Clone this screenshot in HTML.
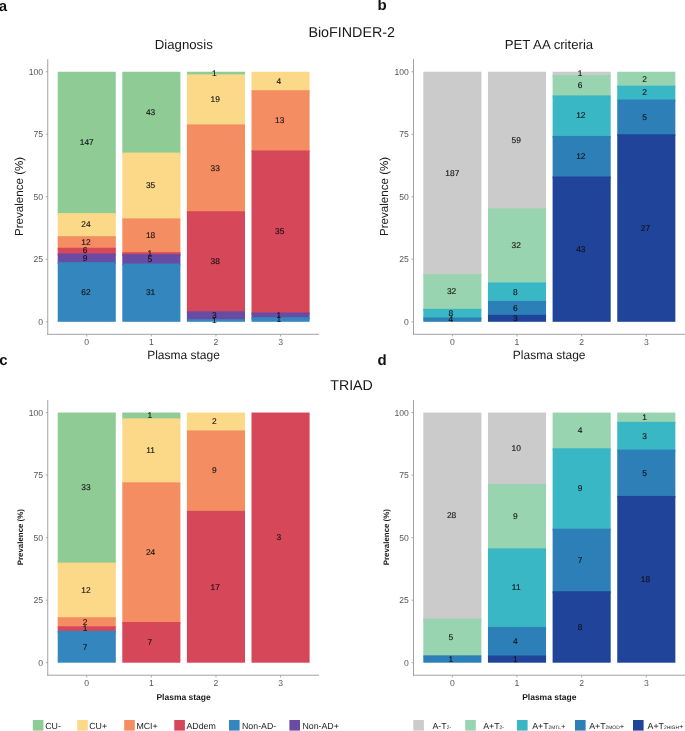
<!DOCTYPE html>
<html><head><meta charset="utf-8"><style>
html,body{margin:0;padding:0;background:#fff;}
body{width:685px;height:731px;overflow:hidden;}
svg{display:block;font-family:"Liberation Sans", sans-serif;will-change:transform;}
text{text-rendering:geometricPrecision;}
</style></head><body>
<svg width="685" height="731" viewBox="0 0 685 731">
<rect width="685" height="731" fill="#fff"/>
<line x1="47.75" y1="59.25" x2="47.75" y2="334.80" stroke="#a2a2a2" stroke-width="1.0"/>
<line x1="47.25" y1="334.30" x2="319.07" y2="334.30" stroke="#a2a2a2" stroke-width="1.0"/>
<line x1="45.75" y1="321.80" x2="47.75" y2="321.80" stroke="#a2a2a2" stroke-width="0.9"/>
<text x="43.15" y="324.80" font-size="8.6" fill="#555" text-anchor="end" font-weight="normal" >0</text>
<line x1="45.75" y1="259.29" x2="47.75" y2="259.29" stroke="#a2a2a2" stroke-width="0.9"/>
<text x="43.15" y="262.29" font-size="8.6" fill="#555" text-anchor="end" font-weight="normal" >25</text>
<line x1="45.75" y1="196.78" x2="47.75" y2="196.78" stroke="#a2a2a2" stroke-width="0.9"/>
<text x="43.15" y="199.78" font-size="8.6" fill="#555" text-anchor="end" font-weight="normal" >50</text>
<line x1="45.75" y1="134.26" x2="47.75" y2="134.26" stroke="#a2a2a2" stroke-width="0.9"/>
<text x="43.15" y="137.26" font-size="8.6" fill="#555" text-anchor="end" font-weight="normal" >75</text>
<line x1="45.75" y1="71.75" x2="47.75" y2="71.75" stroke="#a2a2a2" stroke-width="0.9"/>
<text x="43.15" y="74.75" font-size="8.6" fill="#555" text-anchor="end" font-weight="normal" >100</text>
<line x1="86.75" y1="334.30" x2="86.75" y2="336.50" stroke="#a2a2a2" stroke-width="0.9"/>
<text x="86.75" y="344.80" font-size="8.6" fill="#555" text-anchor="middle" font-weight="normal" >0</text>
<rect x="57.70" y="71.75" width="58.10" height="143.37" fill="#8fcb95"/>
<rect x="57.70" y="213.12" width="58.10" height="25.08" fill="#fcd988"/>
<rect x="57.70" y="236.21" width="58.10" height="13.54" fill="#f48d62"/>
<rect x="57.70" y="247.75" width="58.10" height="7.77" fill="#d54759"/>
<rect x="57.70" y="253.52" width="58.10" height="10.66" fill="#6a4ba3"/>
<rect x="57.70" y="262.17" width="58.10" height="59.63" fill="#3387be"/>
<text x="85.95" y="294.79" font-size="8.4" fill="#111" text-anchor="middle" font-weight="normal" stroke="#111" stroke-width="0.12" >62</text>
<text x="85.15" y="260.64" font-size="8.4" fill="#111" text-anchor="middle" font-weight="normal" stroke="#111" stroke-width="0.12" >9</text>
<text x="85.15" y="253.43" font-size="8.4" fill="#111" text-anchor="middle" font-weight="normal" stroke="#111" stroke-width="0.12" >6</text>
<text x="85.95" y="244.78" font-size="8.4" fill="#111" text-anchor="middle" font-weight="normal" stroke="#111" stroke-width="0.12" >12</text>
<text x="85.95" y="227.47" font-size="8.4" fill="#111" text-anchor="middle" font-weight="normal" stroke="#111" stroke-width="0.12" >24</text>
<text x="86.75" y="145.24" font-size="8.4" fill="#111" text-anchor="middle" font-weight="normal" stroke="#111" stroke-width="0.12" >147</text>
<line x1="151.35" y1="334.30" x2="151.35" y2="336.50" stroke="#a2a2a2" stroke-width="0.9"/>
<text x="151.35" y="344.80" font-size="8.6" fill="#555" text-anchor="middle" font-weight="normal" >1</text>
<rect x="122.30" y="71.75" width="58.10" height="82.84" fill="#8fcb95"/>
<rect x="122.30" y="152.59" width="58.10" height="67.80" fill="#fcd988"/>
<rect x="122.30" y="218.40" width="58.10" height="35.84" fill="#f48d62"/>
<rect x="122.30" y="252.24" width="58.10" height="3.88" fill="#d54759"/>
<rect x="122.30" y="254.12" width="58.10" height="11.40" fill="#6a4ba3"/>
<rect x="122.30" y="263.52" width="58.10" height="58.28" fill="#3387be"/>
<text x="150.55" y="295.46" font-size="8.4" fill="#111" text-anchor="middle" font-weight="normal" stroke="#111" stroke-width="0.12" >31</text>
<text x="149.75" y="261.62" font-size="8.4" fill="#111" text-anchor="middle" font-weight="normal" stroke="#111" stroke-width="0.12" >5</text>
<text x="149.75" y="255.98" font-size="8.4" fill="#111" text-anchor="middle" font-weight="normal" stroke="#111" stroke-width="0.12" >1</text>
<text x="150.55" y="238.12" font-size="8.4" fill="#111" text-anchor="middle" font-weight="normal" stroke="#111" stroke-width="0.12" >18</text>
<text x="150.55" y="188.29" font-size="8.4" fill="#111" text-anchor="middle" font-weight="normal" stroke="#111" stroke-width="0.12" >35</text>
<text x="150.55" y="114.97" font-size="8.4" fill="#111" text-anchor="middle" font-weight="normal" stroke="#111" stroke-width="0.12" >43</text>
<line x1="215.95" y1="334.30" x2="215.95" y2="336.50" stroke="#a2a2a2" stroke-width="0.9"/>
<text x="215.95" y="344.80" font-size="8.6" fill="#555" text-anchor="middle" font-weight="normal" >2</text>
<rect x="186.90" y="71.75" width="58.10" height="4.63" fill="#8fcb95"/>
<rect x="186.90" y="74.38" width="58.10" height="52.01" fill="#fcd988"/>
<rect x="186.90" y="124.39" width="58.10" height="88.86" fill="#f48d62"/>
<rect x="186.90" y="211.25" width="58.10" height="102.02" fill="#d54759"/>
<rect x="186.90" y="311.27" width="58.10" height="9.73" fill="#6a4ba3"/>
<rect x="186.90" y="319.17" width="58.10" height="2.63" fill="#3387be"/>
<text x="214.35" y="323.28" font-size="8.4" fill="#111" text-anchor="middle" font-weight="normal" stroke="#111" stroke-width="0.12" >1</text>
<text x="214.35" y="318.02" font-size="8.4" fill="#111" text-anchor="middle" font-weight="normal" stroke="#111" stroke-width="0.12" >3</text>
<text x="215.15" y="264.06" font-size="8.4" fill="#111" text-anchor="middle" font-weight="normal" stroke="#111" stroke-width="0.12" >38</text>
<text x="215.15" y="170.62" font-size="8.4" fill="#111" text-anchor="middle" font-weight="normal" stroke="#111" stroke-width="0.12" >33</text>
<text x="215.15" y="102.19" font-size="8.4" fill="#111" text-anchor="middle" font-weight="normal" stroke="#111" stroke-width="0.12" >19</text>
<text x="214.35" y="75.87" font-size="8.4" fill="#111" text-anchor="middle" font-weight="normal" stroke="#111" stroke-width="0.12" >1</text>
<line x1="280.55" y1="334.30" x2="280.55" y2="336.50" stroke="#a2a2a2" stroke-width="0.9"/>
<text x="280.55" y="344.80" font-size="8.6" fill="#555" text-anchor="middle" font-weight="normal" >3</text>
<rect x="251.50" y="71.75" width="58.10" height="20.52" fill="#fcd988"/>
<rect x="251.50" y="90.27" width="58.10" height="62.20" fill="#f48d62"/>
<rect x="251.50" y="150.47" width="58.10" height="164.07" fill="#d54759"/>
<rect x="251.50" y="312.54" width="58.10" height="6.63" fill="#6a4ba3"/>
<rect x="251.50" y="317.17" width="58.10" height="4.63" fill="#3387be"/>
<text x="278.95" y="322.28" font-size="8.4" fill="#111" text-anchor="middle" font-weight="normal" stroke="#111" stroke-width="0.12" >1</text>
<text x="278.95" y="317.65" font-size="8.4" fill="#111" text-anchor="middle" font-weight="normal" stroke="#111" stroke-width="0.12" >1</text>
<text x="279.75" y="234.30" font-size="8.4" fill="#111" text-anchor="middle" font-weight="normal" stroke="#111" stroke-width="0.12" >35</text>
<text x="279.75" y="123.17" font-size="8.4" fill="#111" text-anchor="middle" font-weight="normal" stroke="#111" stroke-width="0.12" >13</text>
<text x="278.95" y="83.81" font-size="8.4" fill="#111" text-anchor="middle" font-weight="normal" stroke="#111" stroke-width="0.12" >4</text>
<line x1="413.50" y1="59.25" x2="413.50" y2="334.80" stroke="#a2a2a2" stroke-width="1.0"/>
<line x1="413.00" y1="334.30" x2="685.03" y2="334.30" stroke="#a2a2a2" stroke-width="1.0"/>
<line x1="411.50" y1="321.80" x2="413.50" y2="321.80" stroke="#a2a2a2" stroke-width="0.9"/>
<text x="408.90" y="324.80" font-size="8.6" fill="#555" text-anchor="end" font-weight="normal" >0</text>
<line x1="411.50" y1="259.29" x2="413.50" y2="259.29" stroke="#a2a2a2" stroke-width="0.9"/>
<text x="408.90" y="262.29" font-size="8.6" fill="#555" text-anchor="end" font-weight="normal" >25</text>
<line x1="411.50" y1="196.78" x2="413.50" y2="196.78" stroke="#a2a2a2" stroke-width="0.9"/>
<text x="408.90" y="199.78" font-size="8.6" fill="#555" text-anchor="end" font-weight="normal" >50</text>
<line x1="411.50" y1="134.26" x2="413.50" y2="134.26" stroke="#a2a2a2" stroke-width="0.9"/>
<text x="408.90" y="137.26" font-size="8.6" fill="#555" text-anchor="end" font-weight="normal" >75</text>
<line x1="411.50" y1="71.75" x2="413.50" y2="71.75" stroke="#a2a2a2" stroke-width="0.9"/>
<text x="408.90" y="74.75" font-size="8.6" fill="#555" text-anchor="end" font-weight="normal" >100</text>
<line x1="452.35" y1="334.30" x2="452.35" y2="336.50" stroke="#a2a2a2" stroke-width="0.9"/>
<text x="452.35" y="344.80" font-size="8.6" fill="#555" text-anchor="middle" font-weight="normal" >0</text>
<rect x="423.30" y="71.75" width="58.10" height="204.42" fill="#cbcbcb"/>
<rect x="423.30" y="274.17" width="58.10" height="36.64" fill="#99d4b1"/>
<rect x="423.30" y="308.81" width="58.10" height="10.66" fill="#3ab7c4"/>
<rect x="423.30" y="317.47" width="58.10" height="4.33" fill="#2d7fb8"/>
<text x="450.75" y="322.44" font-size="8.4" fill="#111" text-anchor="middle" font-weight="normal" stroke="#111" stroke-width="0.12" >4</text>
<text x="450.75" y="315.94" font-size="8.4" fill="#111" text-anchor="middle" font-weight="normal" stroke="#111" stroke-width="0.12" >8</text>
<text x="451.55" y="294.29" font-size="8.4" fill="#111" text-anchor="middle" font-weight="normal" stroke="#111" stroke-width="0.12" >32</text>
<text x="452.35" y="175.76" font-size="8.4" fill="#111" text-anchor="middle" font-weight="normal" stroke="#111" stroke-width="0.12" >187</text>
<line x1="517.00" y1="334.30" x2="517.00" y2="336.50" stroke="#a2a2a2" stroke-width="0.9"/>
<text x="517.00" y="344.80" font-size="8.6" fill="#555" text-anchor="middle" font-weight="normal" >1</text>
<rect x="487.95" y="71.75" width="58.10" height="138.60" fill="#cbcbcb"/>
<rect x="487.95" y="208.35" width="58.10" height="76.09" fill="#99d4b1"/>
<rect x="487.95" y="282.44" width="58.10" height="20.52" fill="#3ab7c4"/>
<rect x="487.95" y="300.96" width="58.10" height="15.89" fill="#2d7fb8"/>
<rect x="487.95" y="314.85" width="58.10" height="6.95" fill="#1f4499"/>
<text x="515.40" y="321.13" font-size="8.4" fill="#111" text-anchor="middle" font-weight="normal" stroke="#111" stroke-width="0.12" >3</text>
<text x="515.40" y="310.71" font-size="8.4" fill="#111" text-anchor="middle" font-weight="normal" stroke="#111" stroke-width="0.12" >6</text>
<text x="515.40" y="294.50" font-size="8.4" fill="#111" text-anchor="middle" font-weight="normal" stroke="#111" stroke-width="0.12" >8</text>
<text x="516.20" y="248.20" font-size="8.4" fill="#111" text-anchor="middle" font-weight="normal" stroke="#111" stroke-width="0.12" >32</text>
<text x="516.20" y="142.85" font-size="8.4" fill="#111" text-anchor="middle" font-weight="normal" stroke="#111" stroke-width="0.12" >59</text>
<line x1="581.65" y1="334.30" x2="581.65" y2="336.50" stroke="#a2a2a2" stroke-width="0.9"/>
<text x="581.65" y="344.80" font-size="8.6" fill="#555" text-anchor="middle" font-weight="normal" >2</text>
<rect x="552.60" y="71.75" width="58.10" height="5.38" fill="#cbcbcb"/>
<rect x="552.60" y="75.13" width="58.10" height="22.27" fill="#99d4b1"/>
<rect x="552.60" y="95.40" width="58.10" height="42.55" fill="#3ab7c4"/>
<rect x="552.60" y="135.95" width="58.10" height="42.55" fill="#2d7fb8"/>
<rect x="552.60" y="176.50" width="58.10" height="145.30" fill="#1f4499"/>
<text x="580.85" y="251.95" font-size="8.4" fill="#111" text-anchor="middle" font-weight="normal" stroke="#111" stroke-width="0.12" >43</text>
<text x="580.85" y="159.03" font-size="8.4" fill="#111" text-anchor="middle" font-weight="normal" stroke="#111" stroke-width="0.12" >12</text>
<text x="580.85" y="118.48" font-size="8.4" fill="#111" text-anchor="middle" font-weight="normal" stroke="#111" stroke-width="0.12" >12</text>
<text x="580.05" y="88.07" font-size="8.4" fill="#111" text-anchor="middle" font-weight="normal" stroke="#111" stroke-width="0.12" >6</text>
<text x="580.05" y="76.24" font-size="8.4" fill="#111" text-anchor="middle" font-weight="normal" stroke="#111" stroke-width="0.12" >1</text>
<line x1="646.30" y1="334.30" x2="646.30" y2="336.50" stroke="#a2a2a2" stroke-width="0.9"/>
<text x="646.30" y="344.80" font-size="8.6" fill="#555" text-anchor="middle" font-weight="normal" >3</text>
<rect x="617.25" y="71.75" width="58.10" height="15.89" fill="#99d4b1"/>
<rect x="617.25" y="85.64" width="58.10" height="15.89" fill="#3ab7c4"/>
<rect x="617.25" y="99.53" width="58.10" height="36.73" fill="#2d7fb8"/>
<rect x="617.25" y="134.26" width="58.10" height="187.54" fill="#1f4499"/>
<text x="645.50" y="230.83" font-size="8.4" fill="#111" text-anchor="middle" font-weight="normal" stroke="#111" stroke-width="0.12" >27</text>
<text x="644.70" y="119.70" font-size="8.4" fill="#111" text-anchor="middle" font-weight="normal" stroke="#111" stroke-width="0.12" >5</text>
<text x="644.70" y="95.39" font-size="8.4" fill="#111" text-anchor="middle" font-weight="normal" stroke="#111" stroke-width="0.12" >2</text>
<text x="644.70" y="81.50" font-size="8.4" fill="#111" text-anchor="middle" font-weight="normal" stroke="#111" stroke-width="0.12" >2</text>
<line x1="47.75" y1="400.04" x2="47.75" y2="675.71" stroke="#a2a2a2" stroke-width="1.0"/>
<line x1="47.25" y1="675.21" x2="319.07" y2="675.21" stroke="#a2a2a2" stroke-width="1.0"/>
<line x1="45.75" y1="662.70" x2="47.75" y2="662.70" stroke="#a2a2a2" stroke-width="0.9"/>
<text x="43.15" y="665.70" font-size="8.6" fill="#555" text-anchor="end" font-weight="normal" >0</text>
<line x1="45.75" y1="600.16" x2="47.75" y2="600.16" stroke="#a2a2a2" stroke-width="0.9"/>
<text x="43.15" y="603.16" font-size="8.6" fill="#555" text-anchor="end" font-weight="normal" >25</text>
<line x1="45.75" y1="537.62" x2="47.75" y2="537.62" stroke="#a2a2a2" stroke-width="0.9"/>
<text x="43.15" y="540.62" font-size="8.6" fill="#555" text-anchor="end" font-weight="normal" >50</text>
<line x1="45.75" y1="475.09" x2="47.75" y2="475.09" stroke="#a2a2a2" stroke-width="0.9"/>
<text x="43.15" y="478.09" font-size="8.6" fill="#555" text-anchor="end" font-weight="normal" >75</text>
<line x1="45.75" y1="412.55" x2="47.75" y2="412.55" stroke="#a2a2a2" stroke-width="0.9"/>
<text x="43.15" y="415.55" font-size="8.6" fill="#555" text-anchor="end" font-weight="normal" >100</text>
<line x1="86.75" y1="675.21" x2="86.75" y2="677.41" stroke="#a2a2a2" stroke-width="0.9"/>
<text x="86.75" y="685.71" font-size="8.6" fill="#555" text-anchor="middle" font-weight="normal" >0</text>
<rect x="57.70" y="412.55" width="58.10" height="152.09" fill="#8fcb95"/>
<rect x="57.70" y="562.64" width="58.10" height="56.58" fill="#fcd988"/>
<rect x="57.70" y="617.22" width="58.10" height="11.10" fill="#f48d62"/>
<rect x="57.70" y="626.31" width="58.10" height="6.55" fill="#d54759"/>
<rect x="57.70" y="630.86" width="58.10" height="31.84" fill="#3387be"/>
<text x="85.15" y="649.58" font-size="8.4" fill="#111" text-anchor="middle" font-weight="normal" stroke="#111" stroke-width="0.12" >7</text>
<text x="85.15" y="631.39" font-size="8.4" fill="#111" text-anchor="middle" font-weight="normal" stroke="#111" stroke-width="0.12" >1</text>
<text x="85.15" y="624.57" font-size="8.4" fill="#111" text-anchor="middle" font-weight="normal" stroke="#111" stroke-width="0.12" >2</text>
<text x="85.95" y="592.73" font-size="8.4" fill="#111" text-anchor="middle" font-weight="normal" stroke="#111" stroke-width="0.12" >12</text>
<text x="85.95" y="490.39" font-size="8.4" fill="#111" text-anchor="middle" font-weight="normal" stroke="#111" stroke-width="0.12" >33</text>
<line x1="151.35" y1="675.21" x2="151.35" y2="677.41" stroke="#a2a2a2" stroke-width="0.9"/>
<text x="151.35" y="685.71" font-size="8.6" fill="#555" text-anchor="middle" font-weight="normal" >1</text>
<rect x="122.30" y="412.55" width="58.10" height="7.82" fill="#8fcb95"/>
<rect x="122.30" y="418.37" width="58.10" height="65.99" fill="#fcd988"/>
<rect x="122.30" y="482.36" width="58.10" height="141.62" fill="#f48d62"/>
<rect x="122.30" y="621.98" width="58.10" height="40.72" fill="#d54759"/>
<text x="149.75" y="645.14" font-size="8.4" fill="#111" text-anchor="middle" font-weight="normal" stroke="#111" stroke-width="0.12" >7</text>
<text x="150.55" y="554.97" font-size="8.4" fill="#111" text-anchor="middle" font-weight="normal" stroke="#111" stroke-width="0.12" >24</text>
<text x="150.55" y="453.16" font-size="8.4" fill="#111" text-anchor="middle" font-weight="normal" stroke="#111" stroke-width="0.12" >11</text>
<text x="149.75" y="418.26" font-size="8.4" fill="#111" text-anchor="middle" font-weight="normal" stroke="#111" stroke-width="0.12" >1</text>
<line x1="215.95" y1="675.21" x2="215.95" y2="677.41" stroke="#a2a2a2" stroke-width="0.9"/>
<text x="215.95" y="685.71" font-size="8.6" fill="#555" text-anchor="middle" font-weight="normal" >2</text>
<rect x="186.90" y="412.55" width="58.10" height="19.87" fill="#fcd988"/>
<rect x="186.90" y="430.42" width="58.10" height="82.41" fill="#f48d62"/>
<rect x="186.90" y="510.82" width="58.10" height="151.88" fill="#d54759"/>
<text x="215.15" y="589.56" font-size="8.4" fill="#111" text-anchor="middle" font-weight="normal" stroke="#111" stroke-width="0.12" >17</text>
<text x="214.35" y="473.42" font-size="8.4" fill="#111" text-anchor="middle" font-weight="normal" stroke="#111" stroke-width="0.12" >9</text>
<text x="214.35" y="424.28" font-size="8.4" fill="#111" text-anchor="middle" font-weight="normal" stroke="#111" stroke-width="0.12" >2</text>
<line x1="280.55" y1="675.21" x2="280.55" y2="677.41" stroke="#a2a2a2" stroke-width="0.9"/>
<text x="280.55" y="685.71" font-size="8.6" fill="#555" text-anchor="middle" font-weight="normal" >3</text>
<rect x="251.50" y="412.55" width="58.10" height="250.15" fill="#d54759"/>
<text x="278.95" y="540.42" font-size="8.4" fill="#111" text-anchor="middle" font-weight="normal" stroke="#111" stroke-width="0.12" >3</text>
<line x1="413.50" y1="400.04" x2="413.50" y2="675.71" stroke="#a2a2a2" stroke-width="1.0"/>
<line x1="413.00" y1="675.21" x2="685.03" y2="675.21" stroke="#a2a2a2" stroke-width="1.0"/>
<line x1="411.50" y1="662.70" x2="413.50" y2="662.70" stroke="#a2a2a2" stroke-width="0.9"/>
<text x="408.90" y="665.70" font-size="8.6" fill="#555" text-anchor="end" font-weight="normal" >0</text>
<line x1="411.50" y1="600.16" x2="413.50" y2="600.16" stroke="#a2a2a2" stroke-width="0.9"/>
<text x="408.90" y="603.16" font-size="8.6" fill="#555" text-anchor="end" font-weight="normal" >25</text>
<line x1="411.50" y1="537.62" x2="413.50" y2="537.62" stroke="#a2a2a2" stroke-width="0.9"/>
<text x="408.90" y="540.62" font-size="8.6" fill="#555" text-anchor="end" font-weight="normal" >50</text>
<line x1="411.50" y1="475.09" x2="413.50" y2="475.09" stroke="#a2a2a2" stroke-width="0.9"/>
<text x="408.90" y="478.09" font-size="8.6" fill="#555" text-anchor="end" font-weight="normal" >75</text>
<line x1="411.50" y1="412.55" x2="413.50" y2="412.55" stroke="#a2a2a2" stroke-width="0.9"/>
<text x="408.90" y="415.55" font-size="8.6" fill="#555" text-anchor="end" font-weight="normal" >100</text>
<line x1="452.35" y1="675.21" x2="452.35" y2="677.41" stroke="#a2a2a2" stroke-width="0.9"/>
<text x="452.35" y="685.71" font-size="8.6" fill="#555" text-anchor="middle" font-weight="normal" >0</text>
<rect x="423.30" y="412.55" width="58.10" height="208.01" fill="#cbcbcb"/>
<rect x="423.30" y="618.56" width="58.10" height="38.79" fill="#99d4b1"/>
<rect x="423.30" y="655.34" width="58.10" height="7.36" fill="#2d7fb8"/>
<text x="450.75" y="661.82" font-size="8.4" fill="#111" text-anchor="middle" font-weight="normal" stroke="#111" stroke-width="0.12" >1</text>
<text x="450.75" y="639.75" font-size="8.4" fill="#111" text-anchor="middle" font-weight="normal" stroke="#111" stroke-width="0.12" >5</text>
<text x="451.55" y="518.35" font-size="8.4" fill="#111" text-anchor="middle" font-weight="normal" stroke="#111" stroke-width="0.12" >28</text>
<line x1="517.00" y1="675.21" x2="517.00" y2="677.41" stroke="#a2a2a2" stroke-width="0.9"/>
<text x="517.00" y="685.71" font-size="8.6" fill="#555" text-anchor="middle" font-weight="normal" >1</text>
<rect x="487.95" y="412.55" width="58.10" height="73.47" fill="#cbcbcb"/>
<rect x="487.95" y="484.02" width="58.10" height="66.32" fill="#99d4b1"/>
<rect x="487.95" y="548.35" width="58.10" height="80.62" fill="#3ab7c4"/>
<rect x="487.95" y="626.96" width="58.10" height="30.59" fill="#2d7fb8"/>
<rect x="487.95" y="655.55" width="58.10" height="7.15" fill="#1f4499"/>
<text x="515.40" y="661.93" font-size="8.4" fill="#111" text-anchor="middle" font-weight="normal" stroke="#111" stroke-width="0.12" >1</text>
<text x="515.40" y="644.06" font-size="8.4" fill="#111" text-anchor="middle" font-weight="normal" stroke="#111" stroke-width="0.12" >4</text>
<text x="516.20" y="590.45" font-size="8.4" fill="#111" text-anchor="middle" font-weight="normal" stroke="#111" stroke-width="0.12" >11</text>
<text x="515.40" y="518.98" font-size="8.4" fill="#111" text-anchor="middle" font-weight="normal" stroke="#111" stroke-width="0.12" >9</text>
<text x="516.20" y="451.09" font-size="8.4" fill="#111" text-anchor="middle" font-weight="normal" stroke="#111" stroke-width="0.12" >10</text>
<line x1="581.65" y1="675.21" x2="581.65" y2="677.41" stroke="#a2a2a2" stroke-width="0.9"/>
<text x="581.65" y="685.71" font-size="8.6" fill="#555" text-anchor="middle" font-weight="normal" >2</text>
<rect x="552.60" y="412.55" width="58.10" height="37.74" fill="#99d4b1"/>
<rect x="552.60" y="448.29" width="58.10" height="82.41" fill="#3ab7c4"/>
<rect x="552.60" y="528.69" width="58.10" height="64.54" fill="#2d7fb8"/>
<rect x="552.60" y="591.23" width="58.10" height="71.47" fill="#1f4499"/>
<text x="580.05" y="629.76" font-size="8.4" fill="#111" text-anchor="middle" font-weight="normal" stroke="#111" stroke-width="0.12" >8</text>
<text x="580.05" y="562.76" font-size="8.4" fill="#111" text-anchor="middle" font-weight="normal" stroke="#111" stroke-width="0.12" >7</text>
<text x="580.05" y="491.29" font-size="8.4" fill="#111" text-anchor="middle" font-weight="normal" stroke="#111" stroke-width="0.12" >9</text>
<text x="580.05" y="433.22" font-size="8.4" fill="#111" text-anchor="middle" font-weight="normal" stroke="#111" stroke-width="0.12" >4</text>
<line x1="646.30" y1="675.21" x2="646.30" y2="677.41" stroke="#a2a2a2" stroke-width="0.9"/>
<text x="646.30" y="685.71" font-size="8.6" fill="#555" text-anchor="middle" font-weight="normal" >3</text>
<rect x="617.25" y="412.55" width="58.10" height="11.26" fill="#99d4b1"/>
<rect x="617.25" y="421.81" width="58.10" height="29.79" fill="#3ab7c4"/>
<rect x="617.25" y="449.61" width="58.10" height="48.32" fill="#2d7fb8"/>
<rect x="617.25" y="495.93" width="58.10" height="166.77" fill="#1f4499"/>
<text x="645.50" y="582.12" font-size="8.4" fill="#111" text-anchor="middle" font-weight="normal" stroke="#111" stroke-width="0.12" >18</text>
<text x="644.70" y="475.57" font-size="8.4" fill="#111" text-anchor="middle" font-weight="normal" stroke="#111" stroke-width="0.12" >5</text>
<text x="644.70" y="438.51" font-size="8.4" fill="#111" text-anchor="middle" font-weight="normal" stroke="#111" stroke-width="0.12" >3</text>
<text x="644.70" y="419.98" font-size="8.4" fill="#111" text-anchor="middle" font-weight="normal" stroke="#111" stroke-width="0.12" >1</text>
<text x="-1.20" y="10.50" font-size="15" fill="#111" text-anchor="start" font-weight="bold" >a</text>
<text x="377.50" y="10.30" font-size="15" fill="#111" text-anchor="start" font-weight="bold" >b</text>
<text x="-0.80" y="365.00" font-size="15" fill="#111" text-anchor="start" font-weight="bold" >c</text>
<text x="377.50" y="364.70" font-size="15" fill="#111" text-anchor="start" font-weight="bold" >d</text>
<text x="351.70" y="37.00" font-size="14.3" fill="#1a1a1a" text-anchor="middle" font-weight="normal" >BioFINDER-2</text>
<text x="183.80" y="49.00" font-size="13.2" fill="#1a1a1a" text-anchor="middle" font-weight="normal" >Diagnosis</text>
<text x="549.00" y="49.00" font-size="13.2" fill="#1a1a1a" text-anchor="middle" font-weight="normal" >PET AA criteria</text>
<text x="351.50" y="390.10" font-size="14.2" fill="#1a1a1a" text-anchor="middle" font-weight="normal" >TRIAD</text>
<text x="183.50" y="359.10" font-size="12" fill="#1a1a1a" text-anchor="middle" font-weight="normal" >Plasma stage</text>
<text x="549.20" y="359.10" font-size="12" fill="#1a1a1a" text-anchor="middle" font-weight="normal" >Plasma stage</text>
<text x="183.60" y="699.70" font-size="8.5" fill="#1a1a1a" text-anchor="middle" font-weight="bold" >Plasma stage</text>
<text x="549.30" y="699.70" font-size="8.5" fill="#1a1a1a" text-anchor="middle" font-weight="bold" >Plasma stage</text>
<text x="0.00" y="0.00" font-size="11.6" fill="#1a1a1a" text-anchor="middle" font-weight="normal" transform="translate(23,196.4) rotate(-90)">Prevalence (%)</text>
<text x="0.00" y="0.00" font-size="11.6" fill="#1a1a1a" text-anchor="middle" font-weight="normal" transform="translate(388.4,196.4) rotate(-90)">Prevalence (%)</text>
<text x="0.00" y="0.00" font-size="7.9" fill="#1a1a1a" text-anchor="middle" font-weight="bold" transform="translate(23.0,537.2) rotate(-90)">Prevalence (%)</text>
<text x="0.00" y="0.00" font-size="7.9" fill="#1a1a1a" text-anchor="middle" font-weight="bold" transform="translate(388.6,537.2) rotate(-90)">Prevalence (%)</text>
<rect x="32.80" y="720.00" width="10.60" height="10.60" fill="#8fcb95"/>
<text x="45.20" y="728.60" font-size="8.8" fill="#222" text-anchor="start" font-weight="normal" >CU-</text>
<rect x="77.20" y="720.00" width="10.60" height="10.60" fill="#fcd988"/>
<text x="89.20" y="728.60" font-size="8.8" fill="#222" text-anchor="start" font-weight="normal" >CU+</text>
<rect x="124.20" y="720.00" width="10.60" height="10.60" fill="#f48d62"/>
<text x="136.40" y="728.60" font-size="8.8" fill="#222" text-anchor="start" font-weight="normal" >MCI+</text>
<rect x="174.30" y="720.00" width="10.60" height="10.60" fill="#d54759"/>
<text x="186.50" y="728.60" font-size="8.8" fill="#222" text-anchor="start" font-weight="normal" >ADdem</text>
<rect x="229.00" y="720.00" width="10.60" height="10.60" fill="#3387be"/>
<text x="242.00" y="728.60" font-size="8.8" fill="#222" text-anchor="start" font-weight="normal" >Non-AD-</text>
<rect x="289.40" y="720.00" width="10.60" height="10.60" fill="#6a4ba3"/>
<text x="302.40" y="728.60" font-size="8.8" fill="#222" text-anchor="start" font-weight="normal" >Non-AD+</text>
<rect x="413.30" y="720.00" width="10.60" height="10.60" fill="#cbcbcb"/>
<text x="432.50" y="728.6" font-size="8.8" fill="#222">A-T<tspan font-size="4.9">2-</tspan></text>
<rect x="465.20" y="720.00" width="10.60" height="10.60" fill="#99d4b1"/>
<text x="483.20" y="728.6" font-size="8.8" fill="#222">A+T<tspan font-size="4.9">2-</tspan></text>
<rect x="517.00" y="720.00" width="10.60" height="10.60" fill="#3ab7c4"/>
<text x="532.20" y="728.6" font-size="8.8" fill="#222">A+T<tspan font-size="4.9">2MTL</tspan><tspan font-size="7.6">+</tspan><tspan></tspan></text>
<rect x="575.00" y="720.00" width="10.60" height="10.60" fill="#2d7fb8"/>
<text x="589.20" y="728.6" font-size="8.8" fill="#222">A+T<tspan font-size="4.9">2MOD</tspan><tspan font-size="7.6">+</tspan><tspan></tspan></text>
<rect x="633.00" y="720.00" width="10.60" height="10.60" fill="#1f4499"/>
<text x="647.60" y="728.6" font-size="8.8" fill="#222">A+T<tspan font-size="4.9">2HIGH</tspan><tspan font-size="7.6">+</tspan><tspan></tspan></text>
</svg>
</body></html>
